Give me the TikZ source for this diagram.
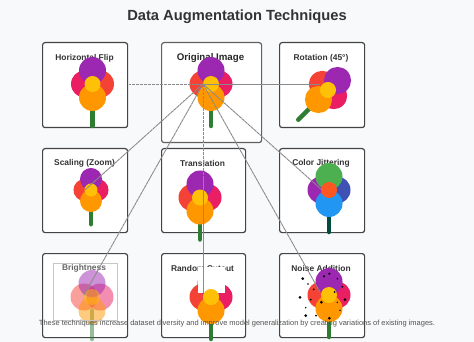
\documentclass[tikz,border=0pt]{standalone}
\usepackage{fontspec}
\setmainfont{Liberation Sans}
\definecolor{pagebg}{HTML}{F8F9FA}
\definecolor{inkdark}{HTML}{333333}
\definecolor{framegray}{HTML}{444444}
\definecolor{linkgray}{HTML}{8A8A8A}
\definecolor{petalred}{HTML}{F44336}
\definecolor{petalpink}{HTML}{E91E63}
\definecolor{petalpurple}{HTML}{9C27B0}
\definecolor{petalorange}{HTML}{FF9800}
\definecolor{petalyellow}{HTML}{FFC107}
\definecolor{petalgreen}{HTML}{4CAF50}
\definecolor{petalblue}{HTML}{2196F3}
\definecolor{petalindigo}{HTML}{3F51B5}
\definecolor{petalcore}{HTML}{FF5722}
\definecolor{stemgreen}{HTML}{2E7D32}
\definecolor{stemteal}{HTML}{004D40}
\tikzset{
  tile/.style={draw=framegray, fill=white, line width=1.2pt, rounded corners=2.5pt, inner sep=0pt, anchor=north west},
  tiletitle/.style={font=\bfseries\fontsize{8.4}{10}\selectfont, text=inkdark, inner sep=0pt, yshift=-0.8pt},
  link/.style={draw=linkgray, line width=0.9pt, dash pattern=on 3.5pt off 0.5pt},
  speck/.style={fill=black}
}
% Flower drawn at the origin: left, right, top, bottom, centre, stem colours
\newcommand{\bloomshape}[6]{%
  \draw[#6, line width=4.5pt, line cap=round] (0,13.5) -- (0,42);
  \fill[#1] (-8,0) circle (13.5);
  \fill[#2] (8,0) circle (13.5);
  \fill[#3] (0,-13.5) circle (13.5);
  \fill[#4] (0,13.5) circle (13.5);
  \fill[#5] (0,0) circle (8);
}
\newcommand{\plainbloom}{\bloomshape{petalred}{petalpink}{petalpurple}{petalorange}{petalyellow}{stemgreen}}
\begin{document}
\begin{tikzpicture}[x=1pt,y=-1pt]
\useasboundingbox (0,0) rectangle (474,342);
\fill[pagebg] (0,0) rectangle (474,342);
\node[font=\bfseries\fontsize{14.7}{18}\selectfont, text=inkdark, inner sep=0pt] (heading) at (237,17) {Data Augmentation Techniques};

% Horizontal flip
\node[tile, minimum width=85pt, minimum height=85pt] (flip) at (42,42) {};
\node[tiletitle] (fliptitle) at (84.5,57.5) {Horizontal Flip};
\begin{scope}[shift={(92.5,84)}]
  \bloomshape{petalpink}{petalred}{petalpurple}{petalorange}{petalyellow}{stemgreen}
\end{scope}

% Original image
\node[tile, draw=framegray!85, minimum width=100pt, minimum height=100pt] (orig) at (161,42) {};
\node[tiletitle, text=black!85, font=\bfseries\fontsize{9.7}{11}\selectfont] (origtitle) at (210.5,57.5) {Original Image};
\begin{scope}[shift={(211,84)}]
  \plainbloom
\end{scope}

% Rotation
\node[tile, minimum width=85pt, minimum height=85pt] (rot) at (279,42) {};
\node[tiletitle] (rottitle) at (321,57.5) {Rotation (45°)};
\begin{scope}[shift={(328,90)}, rotate=-45]
  \plainbloom
\end{scope}

% Scaling
\node[tile, minimum width=85pt, minimum height=84pt] (zoom) at (42,148) {};
\node[tiletitle] (zoomtitle) at (84.5,163) {Scaling (Zoom)};
\begin{scope}[shift={(91,190)}, scale=0.815]
  \plainbloom
\end{scope}

% Translation
\node[tile, minimum width=84pt, minimum height=84pt] (shift) at (161,148) {};
\node[tiletitle] (shifttitle) at (202.5,163) {Translation};
\begin{scope}[shift={(200,197.5)}]
  \plainbloom
\end{scope}

% Colour jitter
\node[tile, minimum width=85pt, minimum height=84pt] (jitter) at (279,148) {};
\node[tiletitle] (jittertitle) at (321,163) {Color Jittering};
\begin{scope}[shift={(329,190)}]
  \bloomshape{petalpurple}{petalindigo}{petalgreen}{petalblue}{petalcore}{stemteal}
\end{scope}

% Brightness
\node[tile, minimum width=85pt, minimum height=84pt] (bright) at (42,253) {};
\node[tiletitle, text=inkdark!75] (brighttitle) at (84,268) {Brightness};
\begin{scope}[shift={(92,297)}, opacity=0.5]
  \plainbloom
\end{scope}
\node[draw=black!22, line width=0.8pt, minimum width=64pt, minimum height=57pt, inner sep=0pt, anchor=north west] (brightframe) at (53,263) {};

% Random cutout
\node[tile, minimum width=84pt, minimum height=84pt] (cut) at (161,253) {};
\node[tiletitle] (cuttitle) at (202.5,268) {Random Cutout};
\begin{scope}[shift={(211,297)}]
  \plainbloom
  \fill[white] (-13.5,-30.5) rectangle (13.5,-4);
  \fill[petalyellow] (0,0) circle (8);
\end{scope}

% Noise
\node[tile, minimum width=85pt, minimum height=84pt] (noise) at (279,253) {};
\node[tiletitle] (noisetitle) at (321,268) {Noise Addition};
\begin{scope}[shift={(329,295)}]
  \plainbloom
\end{scope}
\foreach \px/\py/\pr in {302.7/278.7/1.5, 308/284/0.8, 300/297.3/1.5, 305.7/307.7/0.8,
  305.7/315.7/1.5, 316/315.7/1, 329.3/318.3/1.5, 321.3/302.3/1.5, 310.7/299.7/1,
  313.7/289.3/1, 324/276.3/1.2, 329.3/273.7/1.2, 337.3/278.7/0.8, 342.3/286.7/1,
  334.7/292/1, 345/299.7/1.5, 337.3/302.3/0.8, 340/310.3/0.8}
  \fill[speck] (\px,\py) circle (\pr);

% Links from the original image to each variant
\coordinate (hub) at (203,84);
\coordinate (flipend) at (129,84);
\coordinate (rotend) at (320,84);
\coordinate (zoomend) at (85,190);
\coordinate (shiftend) at (203,232);
\coordinate (jitterend) at (322,190);
\coordinate (brightend) at (84,295);
\coordinate (cutend) at (203,293);
\coordinate (noiseend) at (320,292);
\foreach \target in {flipend,rotend,zoomend,shiftend,jitterend,brightend,cutend,noiseend}
  \draw[link] (hub) -- (\target);

\node[font=\fontsize{7.47}{10}\selectfont, text=inkdark!85, inner sep=0pt] (caption) at (237,323.5) {These techniques increase dataset diversity and improve model generalization by creating variations of existing images.};
\end{tikzpicture}
\end{document}
